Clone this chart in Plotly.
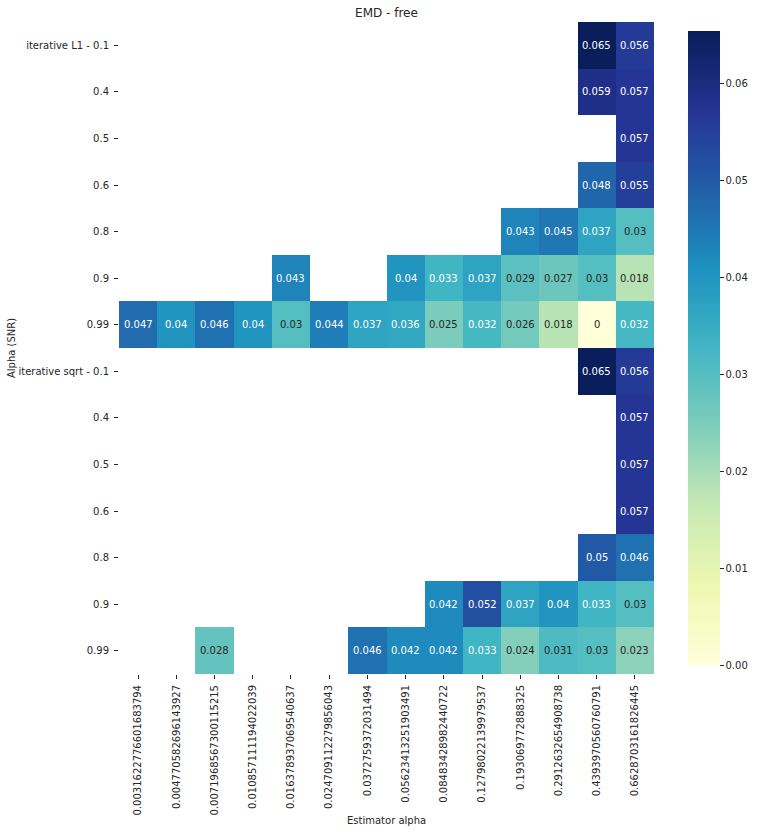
import plotly.graph_objects as go
import numpy as np

N = None
row_labels = ["iterative L1 - 0.1", "0.4", "0.5", "0.6", "0.8", "0.9", "0.99",
              "iterative sqrt - 0.1", "0.4", "0.5", "0.6", "0.8", "0.9", "0.99"]
col_labels = ["0.0031622776601683794", "0.004770582696143927", "0.0071968567300115215",
              "0.010857111194022039", "0.016378937069540637", "0.024709112279856043",
              "0.0372759372031494", "0.05623413251903491", "0.08483428982440722",
              "0.12798022139979537", "0.193069772888325", "0.2912632654908738",
              "0.4393970560760791", "0.6628703161826445"]

l1_01 = [N, N, N, N, N, N, N, N, N, N, N, N, 0.065, 0.056]
l1_04 = [N, N, N, N, N, N, N, N, N, N, N, N, 0.059, 0.057]
l1_05 = [N, N, N, N, N, N, N, N, N, N, N, N, N, 0.057]
l1_06 = [N, N, N, N, N, N, N, N, N, N, N, N, 0.048, 0.055]
l1_08 = [N, N, N, N, N, N, N, N, N, N, 0.043, 0.045, 0.037, 0.030]
l1_09 = [N, N, N, N, 0.043, N, N, 0.040, 0.033, 0.037, 0.029, 0.027, 0.030, 0.018]
l1_099 = [0.047, 0.040, 0.046, 0.040, 0.030, 0.044, 0.037, 0.036, 0.025, 0.032, 0.026, 0.018, 0.0, 0.032]
sq_01 = [N, N, N, N, N, N, N, N, N, N, N, N, 0.065, 0.056]
sq_04 = [N, N, N, N, N, N, N, N, N, N, N, N, N, 0.057]
sq_05 = [N, N, N, N, N, N, N, N, N, N, N, N, N, 0.057]
sq_06 = [N, N, N, N, N, N, N, N, N, N, N, N, N, 0.057]
sq_08 = [N, N, N, N, N, N, N, N, N, N, N, N, 0.050, 0.046]
sq_09 = [N, N, N, N, N, N, N, N, 0.042, 0.052, 0.037, 0.040, 0.033, 0.030]
sq_099 = [N, N, 0.028, N, N, N, 0.046, 0.042, 0.042, 0.033, 0.024, 0.031, 0.030, 0.023]

rows = [l1_01, l1_04, l1_05, l1_06, l1_08, l1_09, l1_099,
        sq_01, sq_04, sq_05, sq_06, sq_08, sq_09, sq_099]
z = np.array([[np.nan if v is None else v for v in r] for r in rows], dtype=float)

nr, nc = z.shape
xs = list(range(nc))
ys = list(range(nr))

FONT = "DejaVu Sans"
DARK = "#262626"

W, H = 757, 834
L, T, PW, PH = 119, 22, 535, 652

fig = go.Figure()
fig.add_trace(go.Heatmap(
    z=z, x=xs, y=ys,
    colorscale="YlGnBu", zmin=0, zmax=0.0654,
    hoverinfo="skip",
    colorbar=dict(
        x=(688 - L) / PW, xanchor="left", xpad=0,
        y=0.5, yanchor="middle", len=1.003, lenmode="fraction",
        thickness=32, outlinewidth=0,
        ticks="outside", ticklen=4, tickcolor=DARK,
        tickformat=".2f", dtick=0.01, tick0=0,
        tickfont=dict(family=FONT, size=10, color=DARK),
    ),
))

annotations = []
for i in range(nr):
    for j in range(nc):
        v = z[i, j]
        if np.isnan(v):
            continue
        txt = f"{v:.3g}" if v != 0 else "0"
        color = DARK if v < 0.0315 else "white"
        annotations.append(dict(x=j, y=i, xref="x", yref="y", text=txt,
                                showarrow=False,
                                font=dict(family=FONT, size=10, color=color)))

annotations.append(dict(x=(11 - L) / PW, y=0.5, xref="paper", yref="paper",
                        text="Alpha (SNR)", textangle=-90, showarrow=False,
                        xanchor="center", yanchor="middle", borderpad=0,
                        font=dict(family=FONT, size=10, color=DARK)))
annotations.append(dict(x=0.5, y=-(820 - 674) / PH, xref="paper", yref="paper",
                        text="Estimator alpha", showarrow=False,
                        xanchor="center", yanchor="middle",
                        font=dict(family=FONT, size=10, color=DARK)))

fig.update_layout(
    width=W, height=H,
    margin=dict(l=L, r=W - L - PW, t=T, b=H - T - PH, autoexpand=False),
    paper_bgcolor="white", plot_bgcolor="white",
    title=dict(text="EMD - free", x=0.5, xref="paper", y=1 - 13 / H,
               yanchor="middle", xanchor="center", automargin=False,
               font=dict(family=FONT, size=12, color=DARK)),
    font=dict(family=FONT, size=10, color=DARK),
    annotations=annotations,
    hovermode=False,
    xaxis=dict(tickmode="array", tickvals=xs, ticktext=col_labels,
               tickangle=-90, ticks="outside", ticklen=4, tickcolor=DARK,
               showgrid=False, zeroline=False, showline=False,
               range=[-0.5, nc - 0.5], automargin=False, ticklabelstandoff=2,
               tickfont=dict(family=FONT, size=10, color=DARK)),
    yaxis=dict(tickmode="array", tickvals=ys, ticktext=row_labels,
               ticks="outside", ticklen=4, tickcolor=DARK,
               showgrid=False, zeroline=False, showline=False,
               range=[nr - 0.5, -0.5], automargin=False, ticklabelstandoff=3,
               tickfont=dict(family=FONT, size=10, color=DARK)),
)

fig.write_html("out.html", config={"displayModeBar": False},
               post_script="document.body.style.margin='0px';document.body.style.overflow='hidden';")
